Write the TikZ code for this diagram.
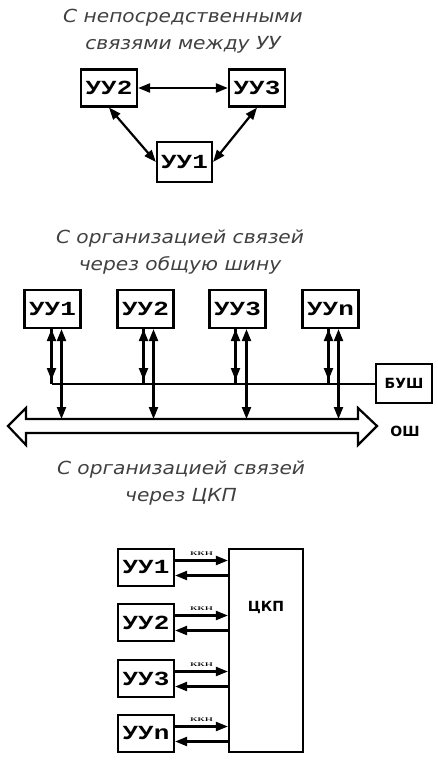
\documentclass[tikz,border=0pt]{standalone}
\usepackage{fontspec}
\newfontfamily\titlefont{DejaVu Sans}[FakeStretch=1.12]
\newfontfamily\boxfont{Liberation Mono}[FakeStretch=1.3]
\newfontfamily\tagfont{DejaVu Sans}
\newfontfamily\tinyfont{Liberation Serif}[FakeStretch=1.9]
\usetikzlibrary{arrows.meta}

\tikzset{
  dev/.style={draw, minimum width=56pt, minimum height=37pt, inner sep=0pt,
    font=\boxfont\bfseries\fontsize{20}{20}\selectfont},
  heading/.style={align=center, text=black!75, font=\titlefont\itshape\fontsize{18}{27}\selectfont},
  tagtext/.style={font=\tagfont\bfseries\fontsize{14}{14}\selectfont},
  small/.style={font=\tinyfont\fontsize{8}{8}\selectfont, inner sep=0pt},
  busarrow/.style={<->, shorten >=4pt}
}

\begin{document}
\begin{tikzpicture}[x=1pt, y=-1pt, line width=2.2pt, >={Triangle[length=12pt,width=9pt]}]
\useasboundingbox (0,0) rectangle (437,763);

% direct links
\node[heading] (t1) at (183,31.5) {С непосредственными\\связями между УУ};
\node[dev] (a2) at (109,88) {УУ2};
\node[dev] (a3) at (257,88) {УУ3};
\node[dev, minimum width=55pt, minimum height=40pt] (a1) at (184.5,162) {УУ1};
\draw[<->] (a2) -- (a3);
\draw[<->] (a2.south) -- (a1.west);
\draw[<->] (a3.south) -- (a1.east);

% common bus
\node[heading] (t2) at (180,252.5) {С организацией связей\\через общую шину};
\node[dev, minimum height=38pt] (b1) at (52.5,309) {УУ1};
\node[dev, minimum height=38pt] (b2) at (145.5,309) {УУ2};
\node[dev, minimum height=38pt] (b3) at (237.5,309) {УУ3};
\node[dev, minimum height=38pt] (bn) at (330.5,309) {УУn};
\node[draw, tagtext, minimum width=56pt, minimum height=39pt, inner sep=0pt] (bush) at (404,383.5) {БУШ};
\coordinate (ctl) at (52,384);
\coordinate (bustop) at (200,419);
\draw (ctl) -- (ctl -| bush.west);
\draw (8,426) -- (26,408) -- (26,419) -- (358,419) -- (358,408) -- (377,426)
  -- (358,445) -- (358,433) -- (26,433) -- (26,445) -- cycle;
\node[tagtext] (osh) at (405,431) {ОШ};
\draw ([xshift=-1pt]b1.south) -- ([xshift=-1pt]b1.south |- ctl);
\draw[busarrow] ([xshift=-1pt]b1.south) -- ([xshift=-1pt]b1.south |- ctl);
\draw[<->] ([xshift=9pt]b1.south) -- ([xshift=9pt]b1.south |- bustop);
\draw ([xshift=-2pt]b2.south) -- ([xshift=-2pt]b2.south |- ctl);
\draw[busarrow] ([xshift=-2pt]b2.south) -- ([xshift=-2pt]b2.south |- ctl);
\draw[<->] ([xshift=8pt]b2.south) -- ([xshift=8pt]b2.south |- bustop);
\draw ([xshift=-2pt]b3.south) -- ([xshift=-2pt]b3.south |- ctl);
\draw[busarrow] ([xshift=-2pt]b3.south) -- ([xshift=-2pt]b3.south |- ctl);
\draw[<->] ([xshift=9pt]b3.south) -- ([xshift=9pt]b3.south |- bustop);
\draw ([xshift=-2pt]bn.south) -- ([xshift=-2pt]bn.south |- ctl);
\draw[busarrow] ([xshift=-2pt]bn.south) -- ([xshift=-2pt]bn.south |- ctl);
\draw[<->] ([xshift=8pt]bn.south) -- ([xshift=8pt]bn.south |- bustop);

% via channel
\node[heading] (t3) at (181,483.5) {С организацией связей\\через ЦКП};
\node[dev] (c1) at (146,567.5) {УУ1};
\node[dev] (c2) at (146,622.5) {УУ2};
\node[dev] (c3) at (146,678.5) {УУ3};
\node[dev] (cn) at (146,733.5) {УУn};
\node[draw, minimum width=74pt, minimum height=203pt] (ckp) at (266,650.5) {};
\node[tagtext] (ckplbl) at (266,607) {ЦКП};
\draw[->] ([yshift=7pt]c1.east) -- ([yshift=7pt]c1.east -| ckp.west) node[midway, above=4pt, small] {ккн};
\draw[<-] ([yshift=-8pt]c1.east) -- ([yshift=-8pt]c1.east -| ckp.west);
\draw[->] ([yshift=7pt]c2.east) -- ([yshift=7pt]c2.east -| ckp.west) node[midway, above=4pt, small] {ккн};
\draw[<-] ([yshift=-8pt]c2.east) -- ([yshift=-8pt]c2.east -| ckp.west);
\draw[->] ([yshift=7pt]c3.east) -- ([yshift=7pt]c3.east -| ckp.west) node[midway, above=4pt, small] {ккн};
\draw[<-] ([yshift=-8pt]c3.east) -- ([yshift=-8pt]c3.east -| ckp.west);
\draw[->] ([yshift=7pt]cn.east) -- ([yshift=7pt]cn.east -| ckp.west) node[midway, above=4pt, small] {ккн};
\draw[<-] ([yshift=-8pt]cn.east) -- ([yshift=-8pt]cn.east -| ckp.west);
\end{tikzpicture}
\end{document}
